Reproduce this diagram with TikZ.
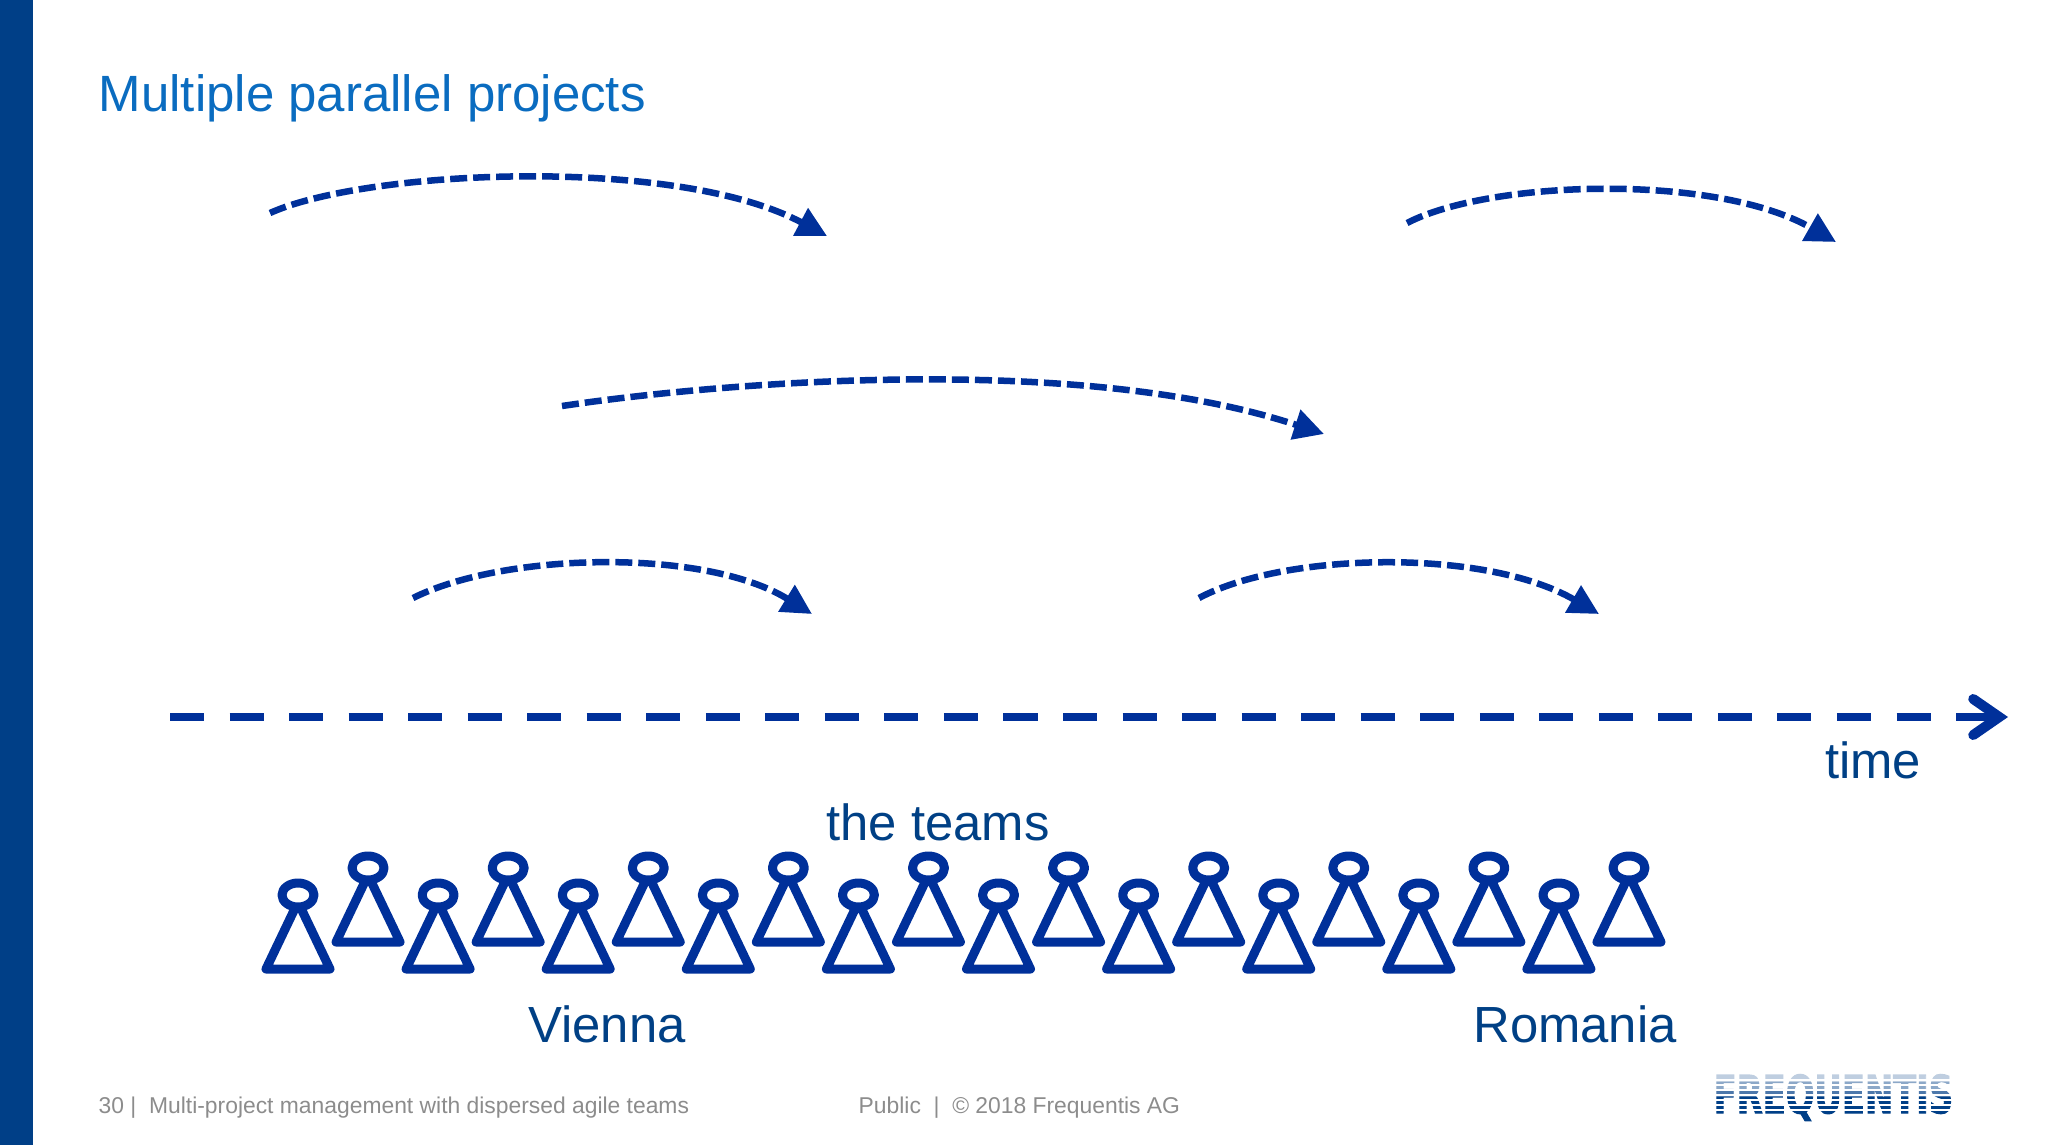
\documentclass[tikz,border=0pt]{standalone}
\usepackage{fontspec}
\setmainfont{Liberation Sans}
\newfontfamily\logofont[BoldFeatures={FakeBold=2.5}]{DejaVu Sans}
\usetikzlibrary{arrows.meta}
\definecolor{barblue}{HTML}{003F87}
\definecolor{titleblue}{HTML}{0A6CC0}
\definecolor{textblue}{HTML}{004085}
\definecolor{lineblue}{HTML}{00309A}
\definecolor{footgray}{HTML}{8C8C8C}
\definecolor{logoblue}{HTML}{003F87}
\begin{document}
\begin{tikzpicture}[
    x=0.01cm, y=-0.01cm,
    title/.style={inner sep=0pt, anchor=base west, text=titleblue, font=\fontsize{14.5}{16}\selectfont},
    label/.style={inner sep=0pt, anchor=base, text=textblue, font=\fontsize{14.45}{16}\selectfont},
    footer/.style={inner sep=0pt, anchor=base west, text=footgray, font=\fontsize{6.5}{8}\selectfont},
    projarrow/.style={-{Triangle[length=0.3cm, width=0.3cm]}, lineblue, line width=0.065cm, dash pattern=on 0.17cm off 0.06cm},
    timearrow/.style={-{Straight Barb[length=0.26cm, width=0.36cm, line width=0.1cm, line cap=round]}, lineblue, line width=0.085cm, dash pattern=on 0.34cm off 0.255cm},
    person/.style={draw=lineblue, line width=0.09cm, line join=round, fill=white}
]
\useasboundingbox (0,0) rectangle (2048,1145);

% Side bar
\fill[barblue] (0,0) rectangle (33,1145);

% Title
\node[title] (head) at (98,111) {Multiple parallel projects};

% Projects
\coordinate (ponestart) at (270,213);
\coordinate (poneend) at (827,236);
\coordinate (ptwostart) at (562,406);
\coordinate (ptwoend) at (1324,434);
\coordinate (pthreestart) at (1407,223);
\coordinate (pthreeend) at (1836,242);
\coordinate (pfourstart) at (413,598);
\coordinate (pfourend) at (812,614);
\coordinate (pfivestart) at (1199,598);
\coordinate (pfiveend) at (1599,614);

\draw[projarrow] (ponestart) .. controls (365,170) and (675,155) .. (poneend);
\draw[projarrow] (ptwostart) .. controls (715,383) and (1075,352) .. (ptwoend);
\draw[projarrow] (pthreestart) .. controls (1490,180) and (1715,173) .. (pthreeend);
\draw[projarrow] (pfourstart) .. controls (505,552) and (705,548) .. (pfourend);
\draw[projarrow] (pfivestart) .. controls (1285,552) and (1485,548) .. (pfiveend);

% Time axis
\coordinate (timestart) at (170,717);
\coordinate (timeend) at (2008,717);
\draw[timearrow] (timestart) -- (timeend);
\node[label] (time) at (1873,778) {time};

% Teams
\node[label] (teams) at (938,840) {the teams};
\foreach \i in {0,...,19} {
    \pgfmathsetmacro{\hx}{298+70.05*\i}
    \pgfmathsetmacro{\hy}{895-27*mod(\i,2)}
    \draw[person] (\hx-32,\hy+74) -- (\hx+32,\hy+74) -- (\hx,\hy+7) -- cycle;
    \draw[person] (\hx,\hy) ellipse [x radius=16, y radius=12];
}
\node[label] (vienna) at (607,1042) {Vienna};
\node[label] (romania) at (1575,1042) {Romania};

% Footer
\node[footer] (page) at (98,1113) {30 |\ \ Multi-project management with dispersed agile teams};
\node[footer] (public) at (858,1113) {Public\ \ |\ \ © 2018 Frequentis AG};

% Logo
\node[inner sep=0pt, anchor=base west, text=logoblue, font=\logofont\fontsize{10}{12}\bfseries\selectfont, xscale=0.96, yscale=1.48] (logo) at (1713,1113) {FREQUENTIS};
\fill[white, opacity=0.75] (1705,1070) rectangle (1960,1082);
\fill[white, opacity=0.55] (1705,1082) rectangle (1960,1089);
\fill[white, opacity=0.3] (1705,1089) rectangle (1960,1097);
\foreach \yy in {1080,1085,1090,1095,1100,1105,1110}
    \draw[white, line width=0.012cm] (1705,\yy) -- (1960,\yy);
\end{tikzpicture}
\end{document}
